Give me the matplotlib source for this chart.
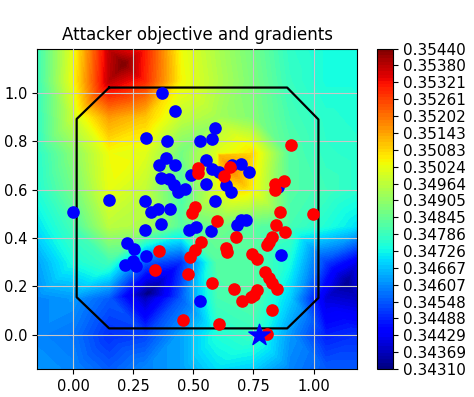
import numpy as np
import matplotlib.pyplot as plt
import matplotlib.tri as mtri

# objective samples (coarse grid, rows top -> bottom)
grid_x = [-0.15, 0.0, 0.15, 0.3, 0.45, 0.6, 0.75, 0.9, 1.05, 1.18]
grid_y = [1.18, 1.05, 0.90, 0.75, 0.60, 0.45, 0.30, 0.15, 0.00, -0.14]
grid_z = [
    [0.3478, 0.3502, 0.3537, 0.3530, 0.3503, 0.3494, 0.3486, 0.3477, 0.3474, 0.3474],
    [0.3478, 0.3503, 0.3538, 0.3529, 0.3504, 0.3495, 0.3487, 0.3478, 0.3474, 0.3474],
    [0.3477, 0.3498, 0.3515, 0.3510, 0.3497, 0.3493, 0.3488, 0.3480, 0.3476, 0.3475],
    [0.3476, 0.3489, 0.3503, 0.3501, 0.3486, 0.3501, 0.3507, 0.3482, 0.3477, 0.3476],
    [0.3475, 0.3486, 0.3502, 0.3497, 0.3480, 0.3501, 0.3504, 0.3482, 0.3479, 0.3476],
    [0.3470, 0.3480, 0.3496, 0.3494, 0.3482, 0.3486, 0.3483, 0.3480, 0.3475, 0.3470],
    [0.3463, 0.3474, 0.3479, 0.3455, 0.3450, 0.3482, 0.3482, 0.3474, 0.3452, 0.3442],
    [0.3460, 0.3462, 0.3455, 0.3437, 0.3455, 0.3480, 0.3482, 0.3468, 0.3440, 0.3438],
    [0.3460, 0.3458, 0.3450, 0.3452, 0.3463, 0.3475, 0.3478, 0.3462, 0.3448, 0.3450],
    [0.3462, 0.3460, 0.3455, 0.3460, 0.3463, 0.3470, 0.3468, 0.3460, 0.3455, 0.3455],
]
# local extremes
peak_x = [0.21, 0.66, 0.61, 0.71, 0.31, 1.14, 0.20]
peak_y = [1.12, 0.68, 0.74, 0.62, 0.17, 0.22, 0.70]
peak_z = [0.3544, 0.3518, 0.3512, 0.3510, 0.3431, 0.3433, 0.3504]

blue_x = [0.371, 0.422, 0.305, 0.392, 0.528, 0.579, 0.589, 0.386, 0.358, 0.422,
          0.492, 0.367, 0.398, 0.419, 0.464, 0.436, 0.148, 0.301, 0.0, 0.322,
          0.353, 0.405, 0.364, 0.301, 0.482, 0.51, 0.225, 0.255, 0.305, 0.218,
          0.25, 0.263, 0.527, 0.551, 0.579, 0.607, 0.662, 0.697, 0.732, 0.635,
          0.658, 0.551, 0.589, 0.697, 0.718, 0.572, 0.683, 0.864, 0.853]
blue_y = [1.0, 0.924, 0.815, 0.803, 0.803, 0.809, 0.856, 0.732, 0.70, 0.70,
          0.659, 0.65, 0.642, 0.618, 0.604, 0.590, 0.559, 0.553, 0.508, 0.508,
          0.518, 0.518, 0.457, 0.433, 0.433, 0.446, 0.378, 0.355, 0.324, 0.290,
          0.305, 0.283, 0.138, 0.724, 0.686, 0.673, 0.700, 0.707, 0.671, 0.618,
          0.590, 0.622, 0.553, 0.476, 0.476, 0.428, 0.454, 0.33, 0.611]

red_x = [0.905, 0.518, 0.520, 0.654, 0.627, 0.877, 0.840, 0.838, 0.507, 0.493,
         0.861, 0.998, 0.597, 0.843, 0.883, 0.828, 0.815, 0.805, 0.676, 0.530,
         0.505, 0.486, 0.634, 0.642, 0.743, 0.764, 0.796, 0.814, 0.826, 0.847,
         0.576, 0.669, 0.704, 0.738, 0.763, 0.752, 0.825, 0.606, 0.808, 0.357,
         0.340, 0.479, 0.456]
red_y = [0.784, 0.690, 0.667, 0.693, 0.656, 0.634, 0.624, 0.600, 0.526, 0.505,
         0.506, 0.501, 0.470, 0.455, 0.426, 0.406, 0.385, 0.369, 0.403, 0.382,
         0.349, 0.322, 0.360, 0.343, 0.333, 0.315, 0.258, 0.234, 0.213, 0.188,
         0.214, 0.189, 0.140, 0.156, 0.186, 0.165, 0.101, 0.045, 0.004, 0.347,
         0.266, 0.249, 0.062]

star_x, star_y = 0.772, -0.002

hull_x = [0.15, 0.89, 1.02, 1.02, 0.89, 0.15, 0.015, 0.015, 0.15]
hull_y = [1.022, 1.022, 0.89, 0.152, 0.026, 0.026, 0.155, 0.892, 1.022]

cbar_labels = ['0.34310', '0.34369', '0.34429', '0.34488', '0.34548', '0.34607',
               '0.34667', '0.34726', '0.34786', '0.34845', '0.34905', '0.34964',
               '0.35024', '0.35083', '0.35143', '0.35202', '0.35261', '0.35321',
               '0.35380', '0.35440']
zmin, zmax = 0.34310, 0.35440

gx, gy = np.meshgrid(grid_x, grid_y)
px = np.concatenate([gx.ravel(), peak_x])
py = np.concatenate([gy.ravel(), peak_y])
pz = np.concatenate([np.array(grid_z).ravel(), peak_z])
tri = mtri.Triangulation(px, py)

fig = plt.figure(figsize=(4.74, 3.97), dpi=100)
ax = fig.add_axes([0.079, 0.0705, 0.674, 0.807])
cax = fig.add_axes([0.795, 0.0705, 0.035, 0.807])

levels = np.linspace(zmin, zmax, 100)
cs = ax.tricontourf(tri, pz, levels=levels, cmap='jet')
ax.plot(hull_x, hull_y, color='black', lw=1.6, zorder=3)
ax.scatter(blue_x, blue_y, s=65, color='blue', zorder=4)
ax.scatter(red_x, red_y, s=65, color='red', zorder=5)
ax.scatter([star_x], [star_y], s=260, marker='*', color='blue', zorder=6)

ax.set_xlim(-0.148, 1.18)
ax.set_ylim(-0.142, 1.183)
ax.set_xticks([0.0, 0.25, 0.5, 0.75, 1.0])
ax.set_xticklabels(['0.00', '0.25', '0.50', '0.75', '1.00'])
ax.set_yticks([0.0, 0.2, 0.4, 0.6, 0.8, 1.0])
ax.tick_params(labelsize=10.5)
ax.grid(True, color='#c8c8c8', lw=0.8)
ax.set_axisbelow(False)
ax.set_title('Attacker objective and gradients', fontsize=12)

cb = fig.colorbar(cs, cax=cax, ticks=np.linspace(zmin, zmax, 20))
cb.ax.set_yticklabels(cbar_labels)
cb.ax.tick_params(labelsize=11)

fig.savefig('out.png', dpi=100)
